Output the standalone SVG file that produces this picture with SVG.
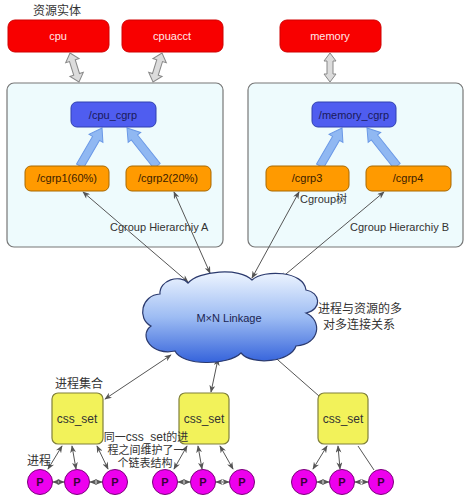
<svg xmlns="http://www.w3.org/2000/svg" width="474" height="504" viewBox="0 0 474 504">
<defs>
<linearGradient id="cloudGrad" x1="0" y1="0" x2="0" y2="1">
<stop offset="0" stop-color="#eef5ff"/>
<stop offset="0.5" stop-color="#9dbcf3"/>
<stop offset="1" stop-color="#3563db"/>
</linearGradient>
<marker id="ah" viewBox="0 0 10 8" refX="9" refY="4" markerWidth="8" markerHeight="6" orient="auto-start-reverse" markerUnits="userSpaceOnUse">
<path d="M0,0 L10,4 L0,8 L3,4 z" fill="#555"/>
</marker>
</defs>
<style>
text{font-family:"Liberation Sans","Noto Sans CJK SC",Arial,sans-serif;}
.cjk{font-family:"Noto Sans CJK SC","Liberation Sans",sans-serif;font-size:12px;fill:#333;}
.note{font-family:"Liberation Sans","Noto Sans CJK SC",sans-serif;font-size:11px;fill:#333;text-anchor:middle;}
.res rect{fill:#f80000;stroke:#d00000;stroke-width:1;}
.res text{fill:#ffe8e8;font-size:11px;text-anchor:middle;}
.hier{fill:#eefbfd;stroke:#777;stroke-width:1.2;}
.root rect{fill:#4f5df0;stroke:#3040b0;stroke-width:1;}
.root text{fill:#1a1a5a;font-size:11px;text-anchor:middle;}
.cg rect{fill:#ff9a00;stroke:#a86800;stroke-width:1;}
.cg text{fill:#3a2000;font-size:11px;text-anchor:middle;}
.css rect{fill:#f2f25a;stroke:#80803a;stroke-width:1.2;}
.css text{fill:#333;font-size:12px;text-anchor:middle;}
.p circle{fill:#ee00ee;stroke:#7a007a;stroke-width:1;}
.p text{fill:#3a003a;font-size:11px;font-weight:bold;text-anchor:middle;}
.lbl{fill:#333;font-size:11px;}
.ln{stroke:#555;stroke-width:1;fill:none;}
.dbl{marker-start:url(#ah);marker-end:url(#ah);}
.block{fill:#dcdcdc;stroke:#888;stroke-width:1;}
.blue{fill:#90b8f2;stroke:#6a98e6;stroke-width:1;}
</style>

<text class="cjk" x="33" y="15">资源实体</text>

<g id="res-cpu" class="res"><rect x="8" y="20" width="101" height="32" rx="7"/><text x="58" y="40">cpu</text></g>
<g id="res-cpuacct" class="res"><rect x="122" y="20" width="101" height="32" rx="7"/><text x="172" y="40">cpuacct</text></g>
<g id="res-memory" class="res"><rect x="280" y="20" width="101" height="32" rx="7"/><text x="330" y="40">memory</text></g>

<g id="hier-a"><rect class="hier" x="7" y="83" width="216" height="164" rx="7"/><text class="lbl" x="110" y="231">Cgroup Hierarchiy A</text></g>
<g id="hier-b"><rect class="hier" x="248" y="83" width="215" height="164" rx="7"/><text class="lbl" x="350" y="231">Cgroup Hierarchiy B</text></g>

<g id="connectors">
<g transform="translate(70,53) rotate(72.8)"><polygon class="block" points="0,0 8,-7 8,-3 22.4,-3 22.4,-7 30.4,0 22.4,7 22.4,3 8,3 8,7"/></g>
<g transform="translate(162,53) rotate(107.2)"><polygon class="block" points="0,0 8,-7 8,-3 22.4,-3 22.4,-7 30.4,0 22.4,7 22.4,3 8,3 8,7"/></g>
<g transform="translate(330,53) rotate(90)"><polygon class="block" points="0,0 8,-6 8,-3 21,-3 21,-6 29,0 21,6 21,3 8,3 8,6"/></g>
<g transform="translate(80,166) rotate(-59.9)"><polygon class="blue" points="0,-4 31.9,-4 31.9,-8 43.9,0 31.9,8 31.9,4 0,4"/></g>
<g transform="translate(157,166) rotate(-128.3)"><polygon class="blue" points="0,-4 36.4,-4 36.4,-8 48.4,0 36.4,8 36.4,4 0,4"/></g>
<g transform="translate(320,166) rotate(-59.9)"><polygon class="blue" points="0,-4 31.9,-4 31.9,-8 43.9,0 31.9,8 31.9,4 0,4"/></g>
<g transform="translate(397,166) rotate(-128.3)"><polygon class="blue" points="0,-4 36.4,-4 36.4,-8 48.4,0 36.4,8 36.4,4 0,4"/></g>
<line class="ln dbl" x1="83" y1="192" x2="188" y2="282"/>
<line class="ln dbl" x1="174" y1="192" x2="210" y2="273"/>
<line class="ln dbl" x1="299" y1="192" x2="252" y2="278"/>
<line class="ln dbl" x1="384" y1="192" x2="280" y2="279"/>
<line class="ln dbl" x1="171" y1="355" x2="105" y2="399"/>
<line class="ln dbl" x1="218" y1="359" x2="211" y2="392"/>
<line class="ln" x1="270" y1="353" x2="319" y2="396"/>
<line class="ln dbl" x1="62" y1="446" x2="48" y2="469"/>
<line class="ln dbl" x1="72" y1="446" x2="76" y2="469"/>
<line class="ln dbl" x1="97" y1="446" x2="108" y2="469"/>
<line class="ln dbl" x1="187" y1="446" x2="174" y2="469"/>
<line class="ln dbl" x1="198" y1="446" x2="202" y2="469"/>
<line class="ln dbl" x1="220" y1="446" x2="233" y2="469"/>
<line class="ln dbl" x1="327" y1="446" x2="313" y2="469"/>
<line class="ln dbl" x1="338" y1="446" x2="340" y2="469"/>
<line class="ln" x1="358" y1="446" x2="374" y2="470"/>
<line class="ln dbl" x1="53" y1="482" x2="64" y2="482"/>
<line class="ln dbl" x1="90" y1="482" x2="102" y2="482"/>
<line class="ln dbl" x1="178" y1="482" x2="190" y2="482"/>
<line class="ln dbl" x1="216" y1="482" x2="229" y2="482"/>
<line class="ln dbl" x1="317" y1="482" x2="329" y2="482"/>
<line class="ln dbl" x1="355" y1="482" x2="368" y2="482"/>
</g>

<g id="cpu_cgrp" class="root"><rect x="71" y="102" width="85" height="25" rx="6"/><text x="113" y="119">/cpu_cgrp</text></g>
<g id="memory_cgrp" class="root"><rect x="312" y="102" width="84" height="25" rx="6"/><text x="354" y="119">/memory_cgrp</text></g>

<g id="cgrp1" class="cg"><rect x="25" y="166" width="84" height="25" rx="6"/><text x="67" y="182">/cgrp1(60%)</text></g>
<g id="cgrp2" class="cg"><rect x="126" y="166" width="85" height="25" rx="6"/><text x="168" y="182">/cgrp2(20%)</text></g>
<g id="cgrp3" class="cg"><rect x="266" y="166" width="83" height="25" rx="6"/><text x="307" y="182">/cgrp3</text></g>
<g id="cgrp4" class="cg"><rect x="366" y="166" width="85" height="25" rx="6"/><text x="408" y="182">/cgrp4</text></g>
<text class="lbl" x="300" y="203" font-size="12">Cgroup<tspan font-family="Noto Sans CJK SC">树</tspan></text>

<g id="linkage">
<path d="M188,283 C198,271 240,267 252,280 C264,269 304,271 306,290 C320,292 323,309 306,313 C322,320 321,344 296,346 C291,362 252,366 241,353 C228,366 182,366 175,351 C152,356 138,336 151,326 C137,319 141,295 160,294 C159,280 180,274 188,283 Z" fill="url(#cloudGrad)" stroke="#2b3a6e" stroke-width="1.2"/>
<text x="229" y="322" font-size="11" fill="#1a2450" text-anchor="middle">M×N Linkage</text>
</g>
<text class="cjk" x="318" y="313">进程与资源的多</text>
<text class="cjk" x="323" y="329">对多连接关系</text>

<text class="cjk" x="55" y="388">进程集合</text>
<g id="css1" class="css"><rect x="52" y="393" width="51" height="51" rx="6"/><text x="77" y="423">css_set</text></g>
<g id="css2" class="css"><rect x="179" y="393" width="50" height="51" rx="6"/><text x="204" y="423">css_set</text></g>
<g id="css3" class="css"><rect x="318" y="393" width="50" height="51" rx="6"/><text x="343" y="423">css_set</text></g>

<text class="cjk" x="27" y="465">进程</text>
<text class="note"><tspan x="146" y="441">同一<tspan font-size="12">css_set</tspan>的进</tspan><tspan x="146" y="454">程之间维护了一</tspan><tspan x="145" y="467">个链表结构</tspan></text>

<g id="p1" class="p"><circle cx="40" cy="482" r="12.5"/><text x="40" y="486">P</text></g>
<g id="p2" class="p"><circle cx="77" cy="482" r="12.5"/><text x="77" y="486">P</text></g>
<g id="p3" class="p"><circle cx="115" cy="482" r="12.5"/><text x="115" y="486">P</text></g>
<g id="p4" class="p"><circle cx="165" cy="482" r="12.5"/><text x="165" y="486">P</text></g>
<g id="p5" class="p"><circle cx="203" cy="482" r="12.5"/><text x="203" y="486">P</text></g>
<g id="p6" class="p"><circle cx="242" cy="482" r="12.5"/><text x="242" y="486">P</text></g>
<g id="p7" class="p"><circle cx="304" cy="482" r="12.5"/><text x="304" y="486">P</text></g>
<g id="p8" class="p"><circle cx="342" cy="482" r="12.5"/><text x="342" y="486">P</text></g>
<g id="p9" class="p"><circle cx="381" cy="482" r="12.5"/><text x="381" y="486">P</text></g>
</svg>
